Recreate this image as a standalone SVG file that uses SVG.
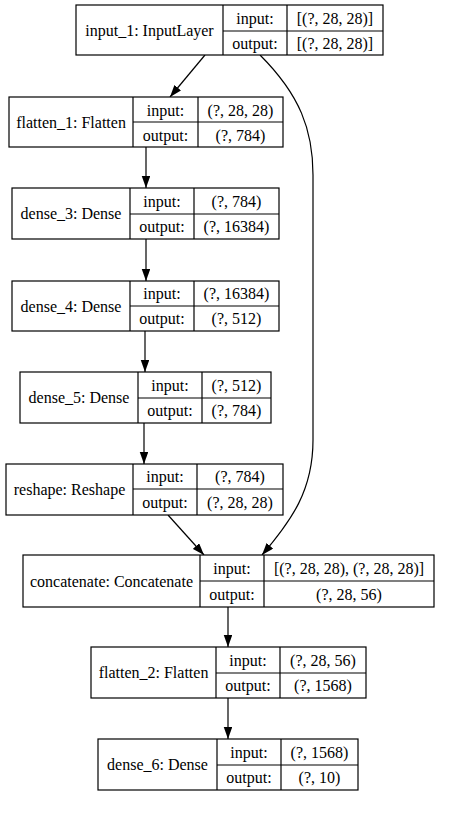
<svg xmlns="http://www.w3.org/2000/svg" width="474" height="817" viewBox="0 0 474 817">
<defs>
<marker id="ah" markerUnits="userSpaceOnUse" markerWidth="13" markerHeight="9" refX="12" refY="4.25" orient="auto">
<path d="M0,0 L12,4.25 L0,8.5 z" fill="#000"/>
</marker>
</defs>
<style>
rect{fill:#fff;stroke:#000;stroke-width:1.2}
line.d{stroke:#000;stroke-width:1.2}
text{font-family:"Liberation Serif","Times New Roman",serif;font-size:16px;fill:#000;text-anchor:middle}
.e{fill:none;stroke:#000;stroke-width:1.2;marker-end:url(#ah)}
</style>
<rect x="0" y="0" width="474" height="817" style="stroke:none"/>
<g id="edges">
<path class="e" d="M205,55 L170,97"/>
<path class="e" d="M146,147 L146,188"/>
<path class="e" d="M146,239 L146,281"/>
<path class="e" d="M145,331 L145,372"/>
<path class="e" d="M144,423 L144,464"/>
<path class="e" d="M168,515 L204,555"/>
<path class="e" d="M260,55 C300,95 313,130 313,175 L313,440 C313,490 292,520 262,555"/>
<path class="e" d="M228,607 L228,647"/>
<path class="e" d="M228,698 L228,739"/>
</g>
<g id="input_1">
<rect x="76" y="5" width="307" height="50"/>
<line class="d" x1="223" y1="5" x2="223" y2="55"/><line class="d" x1="287" y1="5" x2="287" y2="55"/><line class="d" x1="223" y1="31" x2="383" y2="31"/>
<text x="149.5" y="35.5">input_1: InputLayer</text>
<text x="255" y="23.5">input:</text><text x="335" y="23.5">[(?, 28, 28)]</text>
<text x="255" y="48.5">output:</text><text x="335" y="48.5">[(?, 28, 28)]</text>
</g>
<g id="flatten_1">
<rect x="9" y="97" width="274" height="50"/>
<line class="d" x1="133" y1="97" x2="133" y2="147"/><line class="d" x1="198" y1="97" x2="198" y2="147"/><line class="d" x1="133" y1="122" x2="283" y2="122"/>
<text x="71" y="127.5">flatten_1: Flatten</text>
<text x="165.5" y="115.5">input:</text><text x="240.5" y="115.5">(?, 28, 28)</text>
<text x="165.5" y="140.5">output:</text><text x="240.5" y="140.5">(?, 784)</text>
</g>
<g id="dense_3">
<rect x="12" y="188" width="267" height="51"/>
<line class="d" x1="130" y1="188" x2="130" y2="239"/><line class="d" x1="194" y1="188" x2="194" y2="239"/><line class="d" x1="130" y1="214" x2="279" y2="214"/>
<text x="71" y="219">dense_3: Dense</text>
<text x="162" y="206.5">input:</text><text x="236.5" y="206.5">(?, 784)</text>
<text x="162" y="232">output:</text><text x="236.5" y="232">(?, 16384)</text>
</g>
<g id="dense_4">
<rect x="12" y="281" width="267" height="50"/>
<line class="d" x1="130" y1="281" x2="130" y2="331"/><line class="d" x1="194" y1="281" x2="194" y2="331"/><line class="d" x1="130" y1="306" x2="279" y2="306"/>
<text x="71" y="311.5">dense_4: Dense</text>
<text x="162" y="299">input:</text><text x="236.5" y="299">(?, 16384)</text>
<text x="162" y="324">output:</text><text x="236.5" y="324">(?, 512)</text>
</g>
<g id="dense_5">
<rect x="20" y="372" width="251" height="51"/>
<line class="d" x1="138" y1="372" x2="138" y2="423"/><line class="d" x1="202" y1="372" x2="202" y2="423"/><line class="d" x1="138" y1="398" x2="271" y2="398"/>
<text x="79" y="403">dense_5: Dense</text>
<text x="170" y="390.5">input:</text><text x="236.5" y="390.5">(?, 512)</text>
<text x="170" y="416">output:</text><text x="236.5" y="416">(?, 784)</text>
</g>
<g id="reshape">
<rect x="6" y="464" width="277" height="51"/>
<line class="d" x1="133" y1="464" x2="133" y2="515"/><line class="d" x1="197" y1="464" x2="197" y2="515"/><line class="d" x1="133" y1="489" x2="283" y2="489"/>
<text x="69.5" y="495">reshape: Reshape</text>
<text x="165" y="482">input:</text><text x="240" y="482">(?, 784)</text>
<text x="165" y="507.5">output:</text><text x="240" y="507.5">(?, 28, 28)</text>
</g>
<g id="concatenate">
<rect x="23" y="555" width="411" height="52"/>
<line class="d" x1="200" y1="555" x2="200" y2="607"/><line class="d" x1="264" y1="555" x2="264" y2="607"/><line class="d" x1="200" y1="581" x2="434" y2="581"/>
<text x="111.5" y="586.5">concatenate: Concatenate</text>
<text x="232" y="573.5">input:</text><text x="349" y="573.5">[(?, 28, 28), (?, 28, 28)]</text>
<text x="232" y="599.5">output:</text><text x="349" y="599.5">(?, 28, 56)</text>
</g>
<g id="flatten_2">
<rect x="91" y="647" width="275" height="51"/>
<line class="d" x1="216" y1="647" x2="216" y2="698"/><line class="d" x1="280" y1="647" x2="280" y2="698"/><line class="d" x1="216" y1="673" x2="366" y2="673"/>
<text x="153.5" y="678">flatten_2: Flatten</text>
<text x="248" y="665.5">input:</text><text x="323" y="665.5">(?, 28, 56)</text>
<text x="248" y="691">output:</text><text x="323" y="691">(?, 1568)</text>
</g>
<g id="dense_6">
<rect x="98" y="739" width="260" height="51"/>
<line class="d" x1="217" y1="739" x2="217" y2="790"/><line class="d" x1="281" y1="739" x2="281" y2="790"/><line class="d" x1="217" y1="765" x2="358" y2="765"/>
<text x="157.5" y="770">dense_6: Dense</text>
<text x="249" y="757.5">input:</text><text x="319.5" y="757.5">(?, 1568)</text>
<text x="249" y="783">output:</text><text x="319.5" y="783">(?, 10)</text>
</g>
</svg>
